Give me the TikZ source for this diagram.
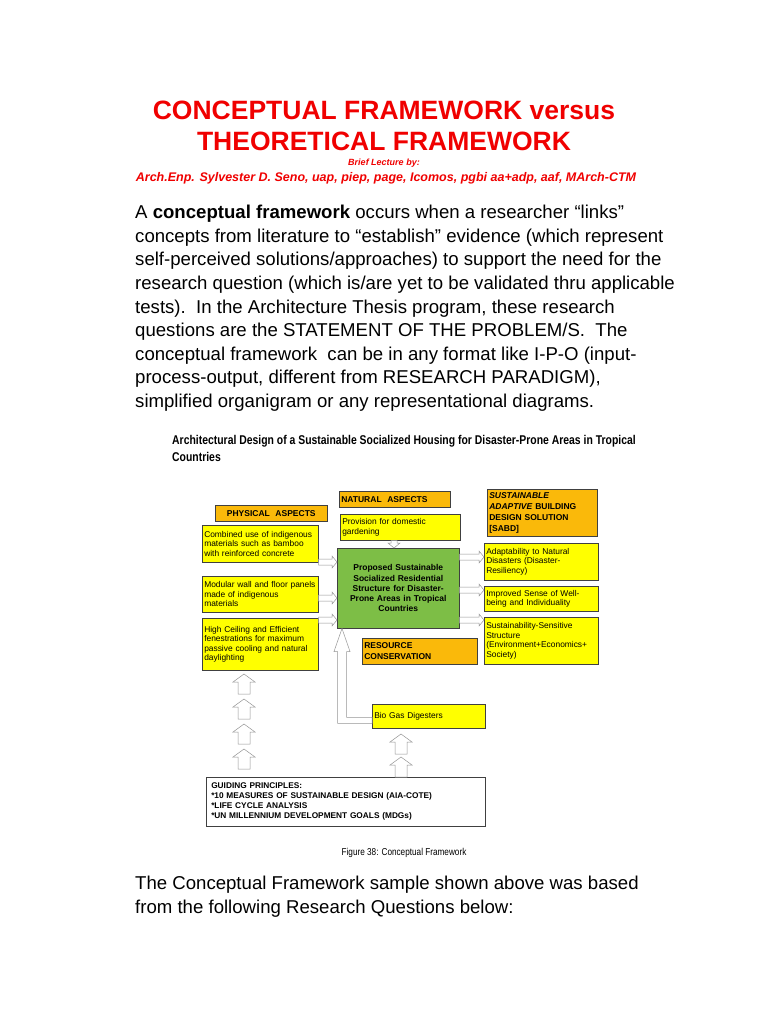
\documentclass[tikz,border=0pt]{standalone}
\usepackage{fontspec}
\setmainfont{Liberation Sans}
\newfontfamily\narrowfont[FakeStretch=0.82]{Liberation Sans}
\usetikzlibrary{calc}

\definecolor{boxyellow}{RGB}{255,255,0}
\definecolor{boxorange}{RGB}{250,185,10}
\definecolor{boxgreen}{RGB}{125,190,70}
\definecolor{titlered}{RGB}{240,0,0}
\definecolor{arrowgray}{RGB}{150,150,150}

\tikzset{
  box/.style={draw=black!75, line width=0.5pt, anchor=north west, inner xsep=2pt, inner ysep=1.5pt,
    align=left, font=\fontsize{8.4}{9.6}\selectfont},
  ybox/.style={box, fill=boxyellow},
  obox/.style={box, fill=boxorange, font=\fontsize{8.5}{10.5}\selectfont\bfseries},
  gbox/.style={box, fill=boxgreen, align=center, font=\fontsize{8.5}{10.2}\selectfont\bfseries},
  wbox/.style={box, fill=white, font=\fontsize{8.3}{10}\selectfont\bfseries},
  blk/.style n args={3}{draw=arrowgray, fill=white, line width=0.5pt, to path={
    ($(\tikztotarget)!#3!(\tikztostart)$) coordinate (hb)
    ($(\tikztostart)!#1!90:(hb)$) -- ($(hb)!#1!-90:(\tikztostart)$) -- ($(hb)!#2!-90:(\tikztostart)$)
    -- (\tikztotarget) -- ($(hb)!#2!90:(\tikztostart)$) -- ($(hb)!#1!90:(\tikztostart)$)
    -- ($(\tikztostart)!#1!-90:(hb)$) -- cycle}},
  link/.style={blk={3pt}{6pt}{5pt}},
  uparrow/.style={blk={6pt}{11pt}{8pt}},
}

\begin{document}
\begin{tikzpicture}[x=1pt,y=-1pt]
  \fill[white] (0,0) rectangle (768,1024);
  \useasboundingbox (0,0) rectangle (768,1024);

  % heading
  \node (title1) [anchor=base, inner sep=0, text=titlered, font=\fontsize{26.5}{31}\selectfont\bfseries] at (384,119.5) {CONCEPTUAL FRAMEWORK versus};
  \node (title2) [anchor=base, inner sep=0, text=titlered, font=\fontsize{26.5}{31}\selectfont\bfseries] at (384,150.5) {THEORETICAL FRAMEWORK};
  \node (brief) [anchor=base, inner sep=0, text=titlered, font=\fontsize{9}{11}\selectfont\bfseries\itshape] at (384,165.5) {Brief Lecture by:};
  \node (author) [anchor=base, inner sep=0, text=titlered, font=\fontsize{12.5}{14}\selectfont\bfseries\itshape] at (386,181.5) {Arch.Enp. Sylvester D. Seno, uap, piep, page, Icomos, pgbi aa+adp, aaf, MArch-CTM};

  \node (para) [anchor=north west, inner sep=0, align=left, font=\fontsize{18.6}{23.6}\selectfont] at (135,205) {A \textbf{conceptual framework} occurs when a researcher “links”\\
    concepts from literature to “establish” evidence (which represent\\
    self-perceived solutions/approaches) to support the need for the\\
    research question (which is/are yet to be validated thru applicable\\
    tests).\ \ In the Architecture Thesis program, these research\\
    questions are the STATEMENT OF THE PROBLEM/S.\ \ The\\
    conceptual framework\ \ can be in any format like I-P-O (input-\\
    process-output, different from RESEARCH PARADIGM),\\
    simplified organigram or any representational diagrams.};

  % figure
  \node (figtitle) [anchor=north west, inner sep=0, align=left, font=\narrowfont\fontsize{12.7}{17}\selectfont\bfseries] at (172,435) {Architectural Design of a Sustainable Socialized Housing for Disaster-Prone Areas in Tropical\\Countries};

  \node (phys) [obox, align=center, text width=108pt, minimum height=16pt] at (215,505) {PHYSICAL\ \ ASPECTS};
  \node (nat) [obox, text width=107pt, minimum height=16pt] at (339,491) {NATURAL\ \ ASPECTS};
  \node (sabd) [obox, text width=106pt, minimum height=47pt, font=\fontsize{8.5}{11}\selectfont\bfseries] at (487,489) {\textit{SUSTAINABLE}\\\textit{ADAPTIVE} BUILDING\\DESIGN SOLUTION\\{[SABD]}};
  \node (prov) [ybox, text width=116pt, minimum height=26pt] at (340,514) {Provision for domestic\\gardening};
  \node (green) [gbox, text width=118pt, minimum height=80pt] at (337,548) {Proposed Sustainable\\Socialized Residential\\Structure for Disaster-\\Prone Areas in Tropical\\Countries};

  \node (comb) [ybox, text width=112pt, minimum height=37pt] at (202,525) {Combined use of indigenous\\materials such as bamboo\\with reinforced concrete};
  \node (modular) [ybox, text width=112pt, minimum height=36pt] at (202,576) {Modular wall and floor panels\\made of indigenous\\materials};
  \node (ceil) [ybox, text width=112pt, minimum height=52pt] at (202,618) {High Ceiling and Efficient\\fenestrations for maximum\\passive cooling and natural\\daylighting};

  \node (adapt) [ybox, text width=110pt, minimum height=37pt] at (484,543) {Adaptability to Natural\\Disasters (Disaster-\\Resiliency)};
  \node (wellb) [ybox, text width=110pt, minimum height=25pt] at (484,586) {Improved Sense of Well-\\being and Individuality};
  \node (sss) [ybox, text width=110pt, minimum height=47pt] at (484,617) {Sustainability-Sensitive\\Structure\\(Environment+Economics+\\Society)};

  \node (resc) [obox, text width=111pt, minimum height=26pt] at (362,638) {RESOURCE\\CONSERVATION};
  \node (biogas) [ybox, text width=109pt, minimum height=24pt] at (372,704) {Bio Gas Digesters};
  \node (guide) [wbox, inner xsep=5pt, text width=269pt, minimum height=49pt] at (206,777) {GUIDING PRINCIPLES:\\{}*10 MEASURES OF SUSTAINABLE DESIGN (AIA-COTE)\\{}*LIFE CYCLE ANALYSIS\\{}*UN MILLENNIUM DEVELOPMENT GOALS (MDGs)};
  \node (figcap) [inner sep=0, font=\narrowfont\fontsize{10}{12}\selectfont] at (404,853) {Figure 38: Conceptual Framework};

  % hollow connectors
  \draw[link] (comb.east |- 0,562) to (green.west |- 0,562);
  \draw[link] (modular.east |- 0,598) to (green.west |- 0,598);
  \draw[link] (ceil.east |- 0,620) to (green.west |- 0,620);
  \draw[link] (green.east |- 0,557) to (adapt.west |- 0,557);
  \draw[link] (green.east |- 0,590) to (wellb.west |- 0,590);
  \draw[link] (green.east |- 0,620) to (sss.west |- 0,620);
  \draw[link] (prov.south -| 394,0) to (green.north -| 394,0);

  \foreach \k in {0,...,3}
    \draw[uparrow] (244,769-25*\k) to (244,749-25*\k);
  \draw[uparrow] (401,777) to (401,757);
  \draw[uparrow] (401,754) to (401,734);

  % bio gas feed into the green box
  \coordinate (bgin) at ([yshift=-4pt]biogas.west);
  \coordinate (upin) at (green.south -| 342,0);
  \coordinate (elbow) at (upin |- bgin);
  \draw[draw=arrowgray, fill=white, line width=0.5pt] ($(bgin)+(0,-3)$) -- ($(elbow)+(4.5,-3)$) -- ($(upin)+(4.5,23)$)
    -- ($(upin)+(8,23)$) -- (upin) -- ($(upin)+(-8,23)$) -- ($(upin)+(-4.5,23)$) -- ($(elbow)+(-4.5,3)$)
    -- ($(bgin)+(0,3)$) -- cycle;

  \node (outro) [anchor=north west, inner sep=0, align=left, font=\fontsize{18.6}{23.6}\selectfont] at (135,876) {The Conceptual Framework sample shown above was based\\
    from the following Research Questions below:};
\end{tikzpicture}
\end{document}
